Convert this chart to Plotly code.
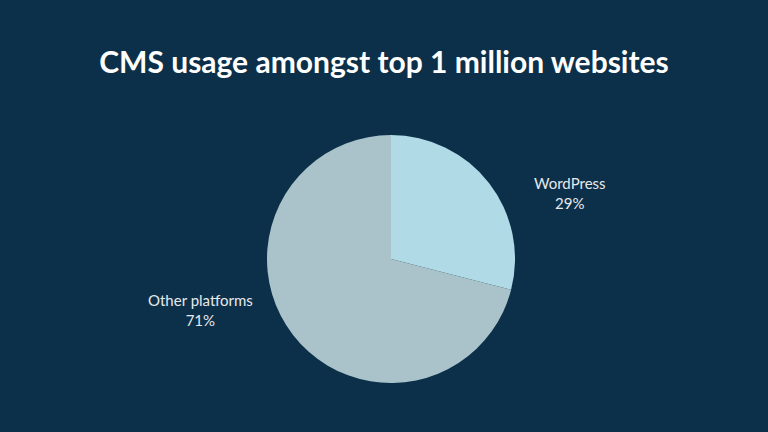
import plotly.graph_objects as go

platforms = ["WordPress", "Other platforms"]
shares = [29, 71]
slice_colors = ["#b0dbe6", "#aac3ca"]

# where each label sits (paper coords)
label_pos = [(570 / 768, 1 - 193 / 432), (200 / 768, 1 - 310 / 432)]

fig = go.Figure()
fig.add_trace(go.Pie(
    labels=platforms,
    values=shares,
    sort=False,
    direction="clockwise",
    rotation=0,
    marker=dict(colors=slice_colors, line=dict(width=0)),
    textinfo="none",
    showlegend=False,
    hoverinfo="skip",
    domain=dict(x=[267 / 768, 515 / 768], y=[1 - 383 / 432, 1 - 135 / 432]),
))

total = sum(shares)
for name, val, (px_, py_) in zip(platforms, shares, label_pos):
    fig.add_annotation(
        x=px_, y=py_, xref="paper", yref="paper",
        xanchor="center", yanchor="middle",
        text=f"{name}<br>{round(100 * val / total)}%",
        showarrow=False,
        align="center",
        font=dict(family="Lato", size=15, color="#e6e9ec"),
    )

fig.update_layout(
    width=768,
    height=432,
    paper_bgcolor="#0c3049",
    plot_bgcolor="#0c3049",
    margin=dict(l=0, r=0, t=0, b=0),
    title=dict(
        text="<b>CMS usage amongst top 1 million websites</b>",
        x=0.5,
        xanchor="center",
        y=1 - 62 / 432,
        yanchor="middle",
        font=dict(family="Lato", size=30, color="#ffffff"),
    ),
)

fig.write_html("out.html", config={"displayModeBar": False},
               post_script="document.body.style.margin='0';")
